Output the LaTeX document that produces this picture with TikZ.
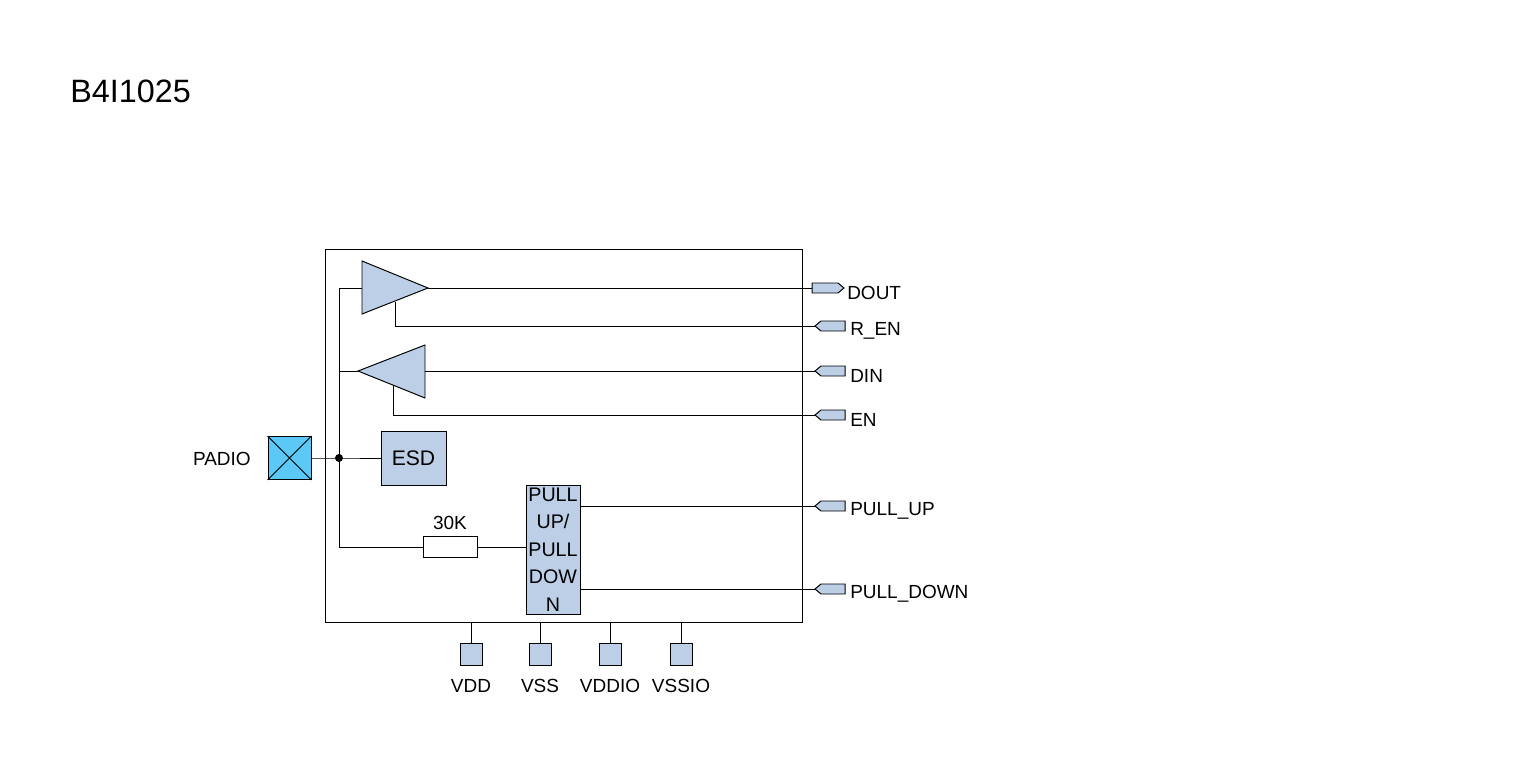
\documentclass[tikz,border=0pt]{standalone}
\usepackage{fontspec}
\setmainfont{Liberation Sans}
\usetikzlibrary{calc, positioning}
\definecolor{blk}{HTML}{BCCFE6}
\definecolor{padc}{HTML}{5BC8F5}
\tikzset{
  wire/.style   = {draw, line width=0.7pt},
  blok/.style   = {draw, line width=0.7pt, fill=blk},
  lbl/.style    = {font=\fontsize{13.5}{15}\selectfont, inner sep=0pt},
}
% pin shapes: output pin points right, input pin points left
\newcommand{\outpin}[3]{%
  \filldraw[blok] (#1,#2-5) -- (#1+26,#2-5) -- (#1+32,#2) -- (#1+26,#2+5) -- (#1,#2+5) -- cycle;
  \coordinate (#3) at (#1,#2);}
\newcommand{\inpin}[3]{%
  \filldraw[blok] (#1+6,#2-5) -- (#1+30,#2-5) -- (#1+30,#2+5) -- (#1+6,#2+5) -- (#1,#2) -- cycle;
  \coordinate (#3) at (#1,#2);}
\begin{document}
\begin{tikzpicture}[x=0.025cm, y=-0.025cm]
    \useasboundingbox (0,0) rectangle (1514,776);

    \node[anchor=west, font=\fontsize{23}{28}\selectfont, inner sep=0pt] (title) at (70,91) {B4I1025};

    % chip outline
    \draw[line width=0.7pt] (325,249) rectangle (802,622);

    % buffers
    \filldraw[blok] (362,261) -- (428,288) -- (362,314) -- cycle;
    \coordinate (rxin) at (362,288);
    \coordinate (rxout) at (428,288);
    \coordinate (rxen) at (395,302);
    \filldraw[blok] (425,345) -- (358,371) -- (425,398) -- cycle;
    \coordinate (txin) at (425,371);
    \coordinate (txout) at (358,371);
    \coordinate (txen) at (393,385);

    % pins on the right
    \outpin{812}{288}{dout}
    \inpin{815}{326}{ren}
    \inpin{815}{371}{din}
    \inpin{815}{415}{en}
    \inpin{815}{506}{pu}
    \inpin{815}{589}{pd}
    \foreach \p/\t in {dout/DOUT, ren/R\_EN, din/DIN, en/EN, pu/PULL\_UP, pd/PULL\_DOWN}
        \node[lbl, anchor=west] at ($(\p)+(35,5)$) {\t};

    % pad, esd, resistor, pull block
    \node[draw, line width=0.7pt, fill=padc, minimum size=43*0.025cm, inner sep=0pt] (pad) at (289.5,458) {};
    \draw[line width=0.7pt] (pad.north west) -- (pad.south east) (pad.north east) -- (pad.south west);
    \node[lbl, anchor=east] (padlbl) at (251,459) {PADIO};
    \node[blok, minimum width=65*0.025cm, minimum height=54*0.025cm, font=\fontsize{15}{16}\selectfont] (esd) at (413.5,458) {ESD};
    \node[draw, line width=0.7pt, minimum width=54*0.025cm, minimum height=21*0.025cm, inner sep=0pt] (res) at (450,547) {};
    \node[lbl, above=4pt of res] (reslbl) {30K};
    \node[blok, minimum width=54*0.025cm, minimum height=129*0.025cm, inner sep=0pt, align=center,
          font=\fontsize{14}{19.5}\selectfont] (pull) at (553,549.5) {PULL\\UP/\\PULL\\DOW\\N};

    % wiring
    \coordinate (dot) at (339,458);
    \fill (dot) circle (4);
    \draw[wire] (pad.east) -- (dot) -- (esd.west);
    \draw[wire] (rxin) -- (339,288) -- (339,547) -- (res.west);
    \draw[wire] (txout) -- (339,371);
    \draw[wire] (res.east) -- (pull.west |- res.east);
    \draw[wire] (rxout) -- (dout);
    \draw[wire] (rxen) -- (395,326) -- (ren);
    \draw[wire] (txin) -- (din);
    \draw[wire] (txen) -- (393,415) -- (en);
    \draw[wire] (pull.east |- pu) -- (pu);
    \draw[wire] (pull.east |- pd) -- (pd);

    % supply pins
    \foreach \x/\t in {471/VDD, 540/VSS, 610/VDDIO, 681/VSSIO} {
        \node[blok, minimum size=22*0.025cm, inner sep=0pt] (sp\t) at (\x,654) {};
        \draw[wire] (sp\t.north) -- (\x,622);
        \node[lbl] at (\x,686) {\t};
    }
\end{tikzpicture}
\end{document}
